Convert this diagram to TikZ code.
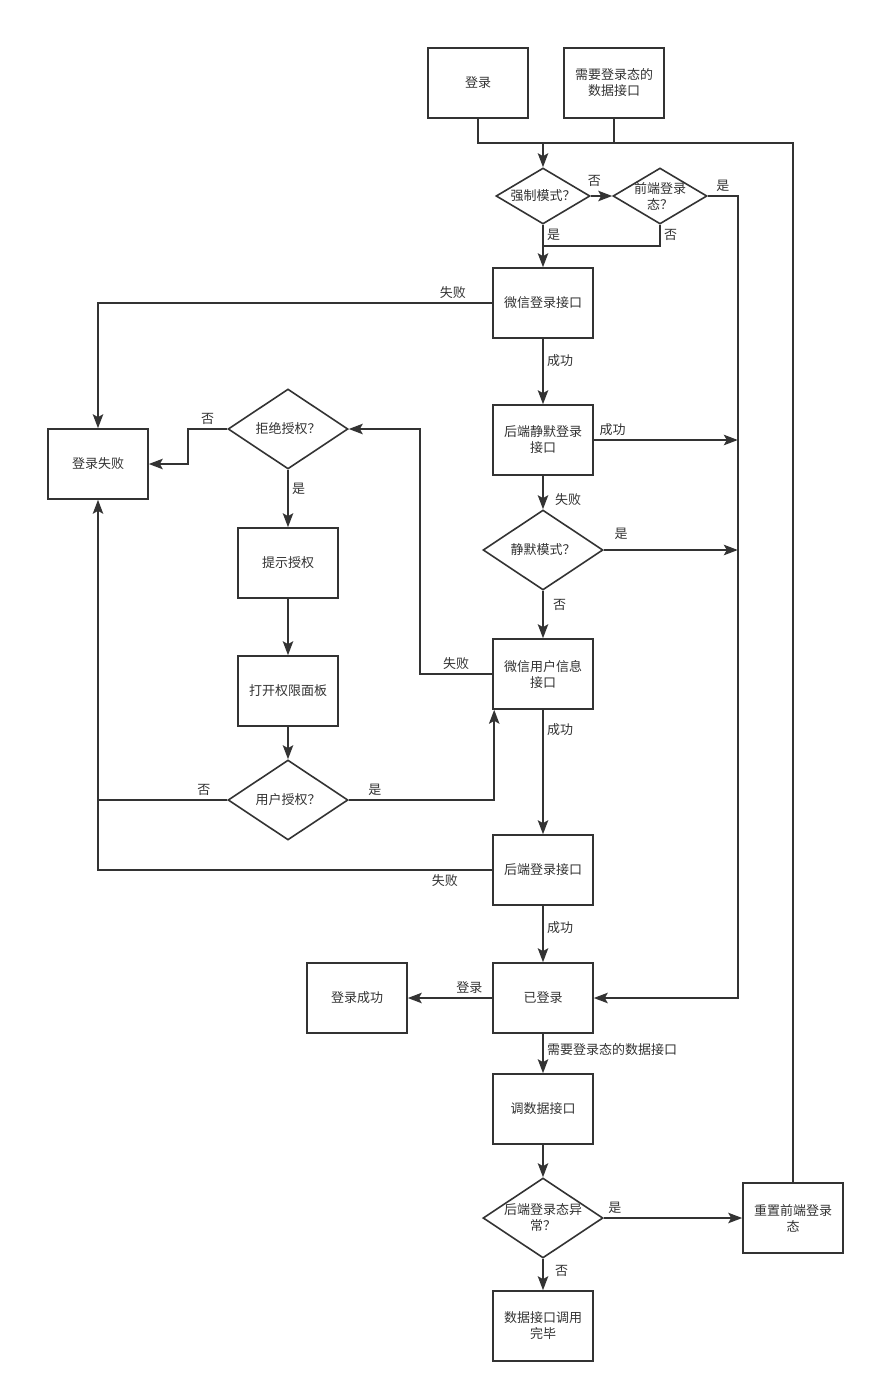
\documentclass[tikz,border=0pt]{standalone}
\usepackage{fontspec}
\setmainfont{Noto Sans CJK SC}
\usepackage{tikz}
\usetikzlibrary{shapes,arrows.meta,positioning,calc}
\definecolor{linegray}{RGB}{51, 51, 51}

\begin{document}
\begin{tikzpicture}[
    x=1pt, y=-1pt,
    every node/.style={align=center, font=\fontsize{13}{16}\selectfont, text=linegray},
    every label/.style={align=center, font=\fontsize{13}{16}\selectfont, text=linegray},
    proc/.style={rectangle, minimum width=100pt, minimum height=70pt, draw=linegray, line width=1.6pt, inner sep=0pt},
    decision/.style={diamond, minimum width=120pt, minimum height=80pt, draw=linegray, line width=1.6pt, inner sep=0pt},
    smalldecision/.style={decision, minimum width=94pt, minimum height=56pt},
    link/.style={draw=linegray, line width=1.6pt},
    arrow/.style={link, -{Stealth[length=14pt, width=10.5pt, inset=3pt]}}
]
\path[use as bounding box, fill=white] (0,0) rectangle (875,1393);

% Entry points
\node[proc] (login) at (478,83) {登录};
\node[proc, right of=login, node distance=136pt] (needapi) {需要登录态的\\数据接口};

% Main login column
\node[smalldecision, label=center:{强制模式？}] (force) at (543,196) {};
\node[smalldecision, label=center:{前端登录\\态？}, right of=force, node distance=117pt] (front) {};
\node[proc, below of=force, node distance=107pt] (wxlogin) {微信登录接口};
\node[proc, below of=wxlogin, node distance=137pt] (bsilent) {后端静默登录\\接口};
\node[decision, label=center:{静默模式？}, below of=bsilent, node distance=110pt] (silent) {};
\node[proc, below of=silent, node distance=124pt] (wxuser) {微信用户信息\\接口};
\node[proc, below of=wxuser, node distance=196pt] (blogin) {后端登录接口};
\node[proc, below of=blogin, node distance=128pt] (logged) {已登录};
\node[proc, left of=logged, node distance=186pt] (success) {登录成功};
\node[proc, below of=logged, node distance=111pt] (calldata) {调数据接口};
\node[decision, label=center:{后端登录态异\\常？}, below of=calldata, node distance=109pt] (abnormal) {};
\node[proc, below of=abnormal, node distance=108pt] (done) {数据接口调用\\完毕};
\node[proc, right of=abnormal, node distance=250pt] (reset) {重置前端登录\\态};

% Authorisation branch
\node[proc] (fail) at (98,464) {登录失败};
\node[decision, label=center:{拒绝授权？}] (refuse) at (288,429) {};
\node[proc, below of=refuse, node distance=134pt] (hint) {提示授权};
\node[proc, below of=hint, node distance=128pt] (panel) {打开权限面板};
\node[decision, label=center:{用户授权？}, below of=panel, node distance=109pt] (auth) {};

% Connections
\coordinate (top) at ($(login.south)!0.5!(force.north)$);
\coordinate (rail) at ([xshift=30pt]front.east);
\draw[link] (login.south) |- (force.north |- top);
\draw[link] (needapi.south) -- (needapi.south |- top);
\draw[arrow] (reset.north) |- (force.north |- top) -- (force.north);
\draw[arrow] (force) -- (front) node[pos=0.17, above=5pt] {否};
\draw[arrow] (force) -- (wxlogin) node[pos=0.23, right] {是};
\draw[link] (front.south) |- ($(force.south)!0.5!(wxlogin.north)$) node[pos=0.25, right] {否};
\draw[arrow] (front.east) -- (rail) node[midway, above] {是} |- (logged.east);
\draw[arrow] (wxlogin.west) -| (fail.north) node[pos=0.05, above] {失败};
\draw[arrow] (wxlogin) -- (bsilent) node[pos=0.34, right] {成功};
\draw[arrow] (bsilent.east) -- (bsilent.east -| rail) node[pos=0.13, above] {成功};
\draw[arrow] (bsilent) -- (silent) node[pos=0.7, right=8pt] {失败};
\draw[arrow] (silent.east) -- (silent.east -| rail) node[pos=0.13, above=6pt] {是};
\draw[arrow] (silent) -- (wxuser) node[pos=0.29, right=6pt] {否};
\draw[arrow] (wxuser.west) -- ++(-72,0) node[midway, above] {失败} |- (refuse.east);
\draw[arrow] (refuse.west) -- ++(-39,0) node[midway, above=0pt] {否} |- (fail.east);
\draw[arrow] (refuse) -- (hint) node[pos=0.34, right] {是};
\draw[arrow] (hint) -- (panel);
\draw[arrow] (panel) -- (auth);
\draw[arrow] (auth.east) -| ([xshift=2pt]wxuser.south west) node[pos=0.09, above] {是};
\draw[link] (auth.west) -- (auth.west -| fail.south) node[pos=0.18, above] {否};
\draw[arrow] (blogin.west) -| (fail.south) node[pos=0.06, below] {失败};
\draw[arrow] (wxuser) -- (blogin) node[pos=0.16, right] {成功};
\draw[arrow] (blogin) -- (logged) node[pos=0.38, right] {成功};
\draw[arrow] (logged) -- (success) node[pos=0.27, above] {登录};
\draw[arrow] (logged) -- (calldata) node[pos=0.39, right=0pt] {需要登录态的数据接口};
\draw[arrow] (calldata) -- (abnormal);
\draw[arrow] (abnormal) -- (reset) node[pos=0.08, above] {是};
\draw[arrow] (abnormal) -- (done) node[pos=0.39, right=8pt] {否};

\end{tikzpicture}
\end{document}
